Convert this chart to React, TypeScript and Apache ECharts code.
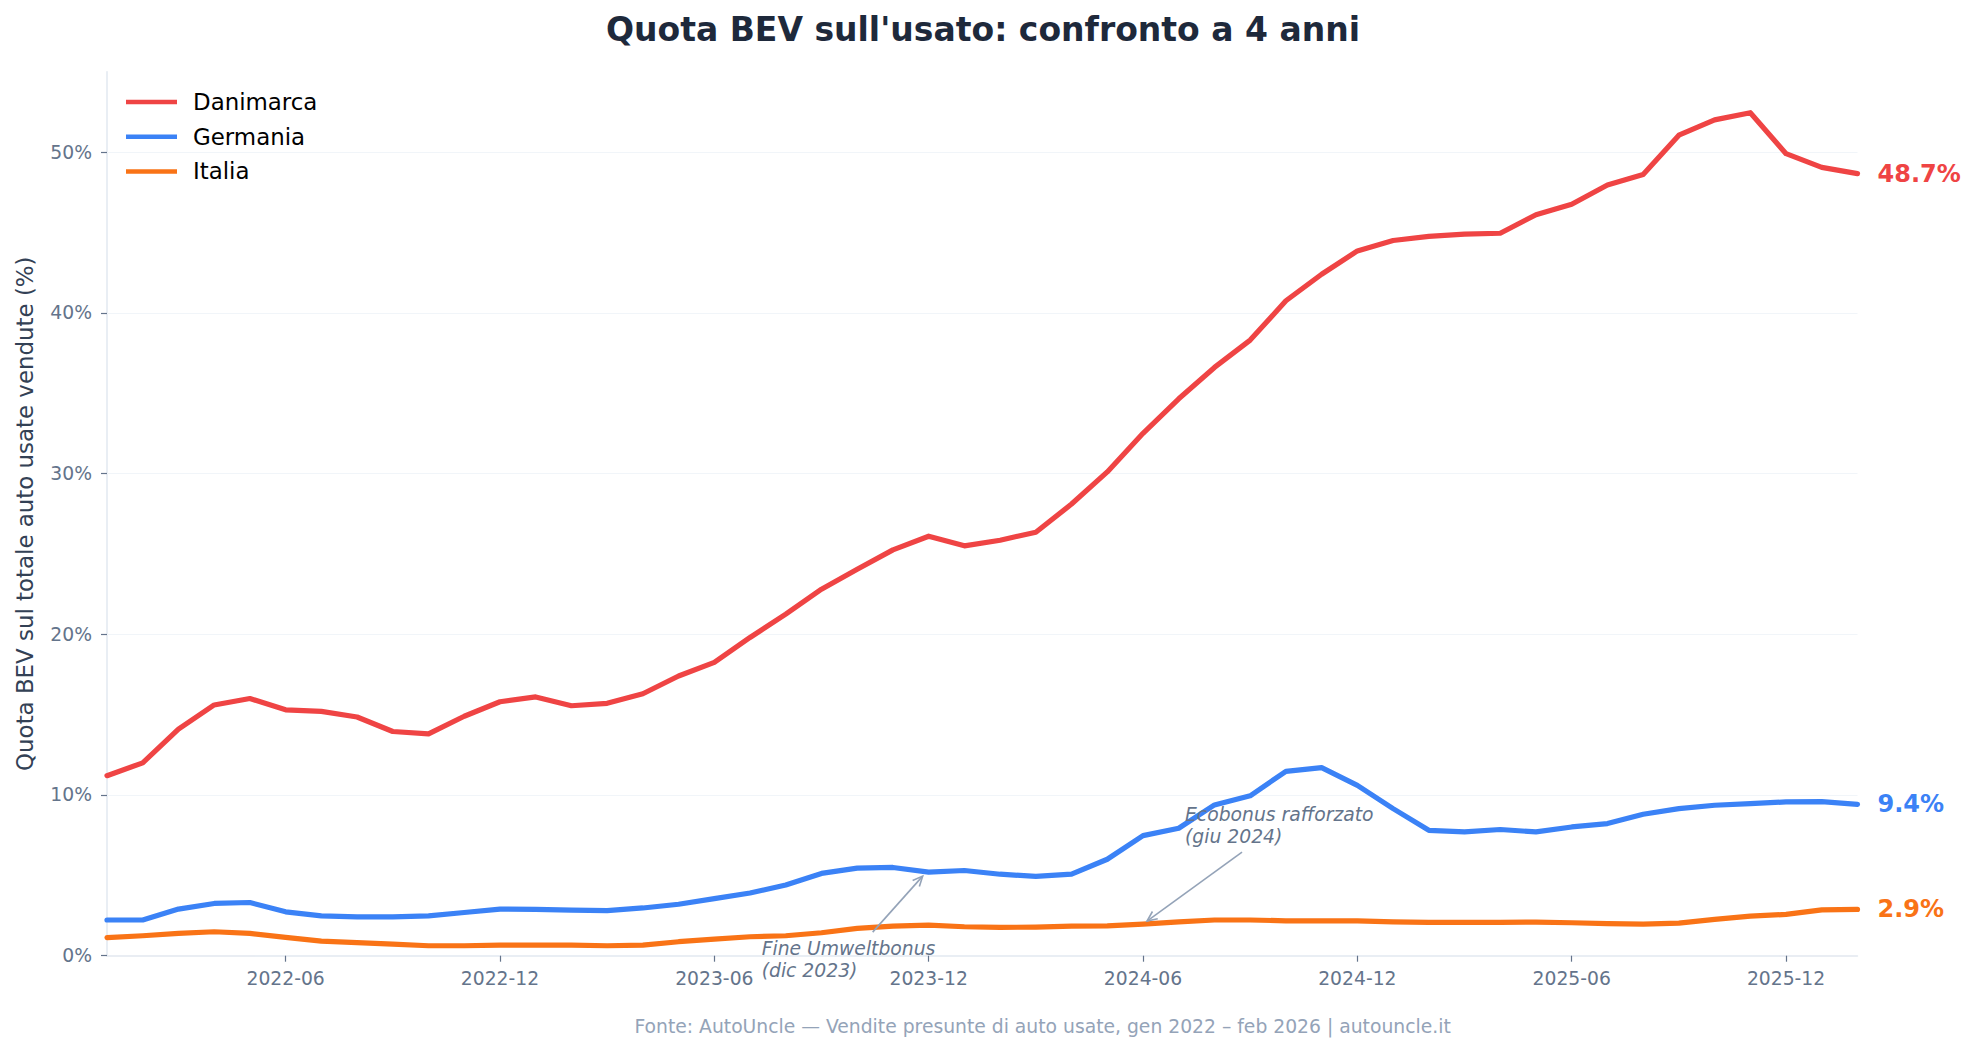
import React, { useEffect, useRef } from "react";
import * as echarts from "echarts";

const MONTHS = [
  "2022-01","2022-02","2022-03","2022-04","2022-05","2022-06","2022-07","2022-08","2022-09","2022-10","2022-11","2022-12",
  "2023-01","2023-02","2023-03","2023-04","2023-05","2023-06","2023-07","2023-08","2023-09","2023-10","2023-11","2023-12",
  "2024-01","2024-02","2024-03","2024-04","2024-05","2024-06","2024-07","2024-08","2024-09","2024-10","2024-11","2024-12",
  "2025-01","2025-02","2025-03","2025-04","2025-05","2025-06","2025-07","2025-08","2025-09","2025-10","2025-11","2025-12",
  "2026-01","2026-02",
];

const DANIMARCA = [
  11.2, 12.0, 14.1, 15.6, 16.0, 15.3, 15.2, 14.85, 13.95, 13.8,
  14.9, 15.8, 16.1, 15.55, 15.7, 16.3, 17.4, 18.25, 19.8, 21.25,
  22.8, 24.05, 25.25, 26.1, 25.5, 25.85, 26.35, 28.1, 30.1, 32.5,
  34.65, 36.6, 38.3, 40.75, 42.4, 43.85, 44.5, 44.75, 44.9, 44.95,
  46.1, 46.75, 47.95, 48.6, 51.05, 52.0, 52.45, 49.9, 49.05, 48.66,
];

const GERMANIA = [
  2.22, 2.22, 2.9, 3.25, 3.31, 2.73, 2.48, 2.42, 2.42, 2.48,
  2.69, 2.9, 2.88, 2.84, 2.8, 2.97, 3.2, 3.55, 3.9, 4.4,
  5.12, 5.45, 5.49, 5.2, 5.3, 5.07, 4.93, 5.07, 6.0, 7.47,
  7.93, 9.38, 9.95, 11.47, 11.7, 10.6, 9.15, 7.8, 7.7, 7.85,
  7.7, 8.01, 8.22, 8.8, 9.15, 9.36, 9.46, 9.57, 9.59, 9.42,
];

const ITALIA = [
  1.12, 1.24, 1.39, 1.49, 1.39, 1.14, 0.91, 0.81, 0.72, 0.62,
  0.62, 0.66, 0.66, 0.66, 0.62, 0.66, 0.87, 1.03, 1.18, 1.24,
  1.43, 1.7, 1.84, 1.9, 1.8, 1.76, 1.78, 1.84, 1.86, 1.97,
  2.11, 2.22, 2.22, 2.17, 2.17, 2.17, 2.11, 2.07, 2.07, 2.07,
  2.09, 2.05, 2.0, 1.97, 2.03, 2.26, 2.46, 2.57, 2.85, 2.88,
];

const SERIES_NAMES = ["Danimarca", "Germania", "Italia"];
const Y_TICKS = [0, 10, 20, 30, 40, 50];
const X_TICK_LABELS = ["2022-06", "2022-12", "2023-06", "2023-12", "2024-06", "2024-12", "2025-06", "2025-12"];

const TITLE = "Quota BEV sull'usato: confronto a 4 anni";
const Y_NAME = "Quota BEV sul totale auto usate vendute (%)";
const FOOTER = "Fonte: AutoUncle — Vendite presunte di auto usate, gen 2022 – feb 2026 | autouncle.it";

const ANNOTATION_TEXTS = ["Fine Umweltbonus\n(dic 2023)", "Ecobonus rafforzato\n(giu 2024)"];
const ANNOTATION_MONTHS = ["2023-12", "2024-06"];
const ANNOTATION_SERIES = [1, 2];

const COLORS = ["#ef4444", "#3b82f6", "#f97316"];
const FONT = "DejaVu Sans";

export default function App() {
  const ref = useRef<HTMLDivElement>(null);

  useEffect(() => {
    if (!ref.current) return;
    const chart = echarts.init(ref.current, null, { renderer: "svg", width: 1980, height: 1053 });
    const seriesData = [DANIMARCA, GERMANIA, ITALIA];

    const option: any = {
      animation: false,
      backgroundColor: "#ffffff",
      textStyle: { fontFamily: FONT },
      title: {
        text: TITLE,
        left: 983,
        top: 13,
        padding: 0,
        textAlign: "center",
        textStyle: { fontFamily: FONT, fontSize: 33, fontWeight: "bold", color: "#1e293b" },
      },
      legend: {
        data: SERIES_NAMES,
        orient: "vertical",
        left: 126,
        top: 89,
        padding: 0,
        icon: "rect",
        itemWidth: 51,
        itemHeight: 4.5,
        itemGap: 8.7,
        textStyle: { fontFamily: FONT, fontSize: 22.9, color: "#000000", lineHeight: 26, padding: [0, 0, 0, 11] },
      },
      grid: { left: 107, right: 122.5, top: 71.7, bottom: 97.3, containLabel: false },
      xAxis: {
        type: "category",
        data: MONTHS,
        boundaryGap: false,
        axisLine: { show: true, lineStyle: { color: "#e2e8f0", width: 1.5 } },
        axisTick: {
          show: true,
          length: 6,
          lineStyle: { color: "#64748b", width: 1.2 },
          interval: (idx: number, val: string) => X_TICK_LABELS.indexOf(val) >= 0,
        },
        axisLabel: {
          show: true,
          margin: 13,
          fontFamily: FONT,
          fontSize: 18.75,
          color: "#64748b",
          interval: (idx: number, val: string) => X_TICK_LABELS.indexOf(val) >= 0,
        },
        splitLine: { show: false },
      },
      yAxis: {
        type: "value",
        min: 0,
        max: 55,
        interval: 10,
        name: Y_NAME,
        nameLocation: "middle",
        nameGap: 71,
        nameTextStyle: { fontFamily: FONT, fontSize: 22.9, color: "#334155" },
        axisLine: { show: true, lineStyle: { color: "#e2e8f0", width: 1.5 } },
        axisTick: { show: true, length: 6, lineStyle: { color: "#64748b", width: 1.2 }, customValues: Y_TICKS },
        axisLabel: {
          margin: 15,
          fontFamily: FONT,
          fontSize: 18.75,
          color: "#64748b",
          formatter: "{value}%",
          customValues: Y_TICKS,
        },
        splitLine: { show: false },
      },
      series: [
        {
          name: "__grid",
          type: "line",
          data: [],
          silent: true,
          z: 1,
          markLine: {
            silent: true,
            z: 1,
            symbol: "none",
            label: { show: false },
            lineStyle: { color: "#f1f5f9", width: 1.2, type: "solid" },
            data: Y_TICKS.filter((v) => v > 0).map((v) => ({ yAxis: v })),
          },
        },
        ...SERIES_NAMES.map((name, i) => ({
          name,
          type: "line",
          data: seriesData[i],
          showSymbol: false,
          symbol: "none",
          z: 3,
          color: COLORS[i],
          lineStyle: { width: 5.2, color: COLORS[i], cap: "round", join: "round" },
          endLabel: {
            show: true,
            distance: 20,
            formatter: (p: any) => `${Number(p.value).toFixed(1)}%`,
            color: COLORS[i],
            fontFamily: FONT,
            fontSize: 24,
            fontWeight: "bold",
          },
        })),
      ],
    };

    chart.setOption(option);

    // annotations
    const tipOffsets = [[-6, 4], [4, -3]];
    const tailOffsets = [[-56, 60], [99, -72]];
    const textOffsets = [[-167, 87], [42, -99]];
    const graphics: any[] = [
      {
        type: "text",
        x: 1042.6,
        y: 1026.7,
        style: {
          text: FOOTER,
          fill: "#94a3b8",
          font: `18.75px "${FONT}"`,
          textAlign: "center",
          textVerticalAlign: "middle",
        },
      },
    ];
    ANNOTATION_TEXTS.forEach((txt, k) => {
      const si = ANNOTATION_SERIES[k];
      const idx = MONTHS.indexOf(ANNOTATION_MONTHS[k]);
      const pt = chart.convertToPixel({ seriesIndex: si + 1 }, [idx, seriesData[si][idx]]) as number[];
      const tip = [pt[0] + tipOffsets[k][0], pt[1] + tipOffsets[k][1]];
      const tail = [pt[0] + tailOffsets[k][0], pt[1] + tailOffsets[k][1]];
      const dx = tip[0] - tail[0];
      const dy = tip[1] - tail[1];
      const len = Math.sqrt(dx * dx + dy * dy);
      const ux = dx / len;
      const uy = dy / len;
      const L = 10;
      const W = 4.5;
      graphics.push({
        type: "line",
        z: 10,
        shape: { x1: tail[0], y1: tail[1], x2: tip[0], y2: tip[1] },
        style: { stroke: "#94a3b8", lineWidth: 1.6 },
      });
      graphics.push({
        type: "polyline",
        z: 10,
        shape: {
          points: [
            [tip[0] - ux * L - uy * W, tip[1] - uy * L + ux * W],
            [tip[0], tip[1]],
            [tip[0] - ux * L + uy * W, tip[1] - uy * L - ux * W],
          ],
        },
        style: { stroke: "#94a3b8", lineWidth: 1.6, fill: null },
      });
      graphics.push({
        type: "text",
        z: 10,
        x: pt[0] + textOffsets[k][0],
        y: pt[1] + textOffsets[k][1],
        style: {
          text: txt,
          fill: "#64748b",
          font: `italic 18.75px "${FONT}"`,
          lineHeight: 22,
          textAlign: "left",
          textVerticalAlign: "middle",
        },
      });
    });
    chart.setOption({ graphic: graphics });

    return () => chart.dispose();
  }, []);

  return (
    <div
      ref={ref}
      style={{ position: "fixed", left: 0, top: 0, width: 1980, height: 1053, background: "#ffffff" }}
    />
  );
}
